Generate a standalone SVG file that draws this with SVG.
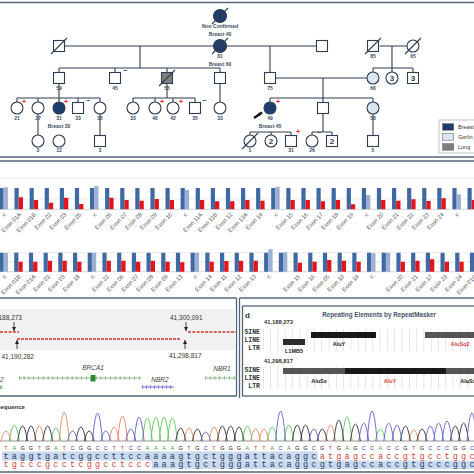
<svg xmlns="http://www.w3.org/2000/svg" width="474" height="474" viewBox="0 0 474 474">
<defs>
<style>
.fr{stroke:#55657a;stroke-width:1.3;fill:none}
.ln{stroke:#2f3d52;stroke-width:1.1;fill:none}
.nd{fill:#fff;stroke:#2f3d52;stroke-width:1.1}
.aff{fill:#1f3d6b}
.gor{fill:#dbe5f1}
.lng{fill:#7f7f7f}
.sl{stroke:#2f3d52;stroke-width:1.1}
.t{font-family:"Liberation Sans",Arial,sans-serif;font-size:5px;font-weight:bold;fill:#3b4a5e;text-anchor:middle}
.in{font-family:"Liberation Sans",Arial,sans-serif;font-size:8px;font-weight:bold;fill:#2f3d52;text-anchor:middle}
.pl{font-family:"Liberation Sans",Arial,sans-serif;font-size:7px;font-weight:bold;fill:#e02828;text-anchor:middle}
.mn{font-family:"Liberation Sans",Arial,sans-serif;font-size:7px;font-weight:bold;fill:#2f3d52;text-anchor:middle}
.lg{font-family:"Liberation Sans",Arial,sans-serif;font-size:5.5px;fill:#333}
.bb{fill:#3f69a3}
.rb{fill:#e3141c}
.cb{fill:#9cb0d3}
.xl{font-family:"Liberation Sans",Arial,sans-serif;font-size:5.8px;fill:#595959;text-anchor:end}
.co{font-family:"Liberation Sans",Arial,sans-serif;font-size:6.5px;fill:#333}
.gn{font-family:"Liberation Sans",Arial,sans-serif;font-size:6.5px;font-style:italic;fill:#444}
.dt{font-family:"Liberation Sans",Arial,sans-serif;font-size:5.8px;font-weight:bold;fill:#333}
.tr{font-family:"Liberation Mono",monospace;font-size:6.5px;font-weight:bold;fill:#333;text-anchor:end}
.rl{font-family:"Liberation Sans",Arial,sans-serif;font-size:5.5px;font-weight:bold;text-anchor:middle}
.up{font-family:"Liberation Sans",Arial,sans-serif;font-size:5.5px;text-anchor:middle}
.lo{font-family:"Liberation Mono",monospace;font-size:8.5px;letter-spacing:3.22px}
.pk{fill:none;stroke-width:0.9}
</style>
<marker id="ah" markerUnits="userSpaceOnUse" markerWidth="4" markerHeight="4" refX="4" refY="2" orient="auto"><path d="M0,0L4,2L0,4z" fill="#222"/></marker>
</defs>
<rect width="474" height="474" fill="#fff"/>

<!-- frames -->
<g id="frames">
<line class="fr" x1="0" y1="2.5" x2="474" y2="2.5"/>
<line class="fr" x1="0" y1="157" x2="474" y2="157"/>
<line class="fr" x1="0" y1="161" x2="474" y2="161"/>
<line class="fr" x1="0" y1="298" x2="236.5" y2="298"/>
<line class="fr" x1="236.5" y1="298" x2="236.5" y2="396"/>
<line class="fr" x1="0" y1="396" x2="236.5" y2="396"/>
<line class="fr" x1="239.5" y1="298" x2="474" y2="298"/>
<line class="fr" x1="239.5" y1="298" x2="239.5" y2="398"/>
<rect class="fr" x="242.5" y="306" width="240" height="90"/>
<line class="fr" x1="0" y1="472" x2="474" y2="472"/>
</g>

<!-- connectors -->
<g id="connectors" class="ln">
<path d="M64.5 46H213.5M226.5 46H316.5M379.5 46H407"/>
<path d="M140 46V68M59 68H220M59 68V72.5M115 68V72.5M167 68V72.5M220 68V72.5"/>
<path d="M270 46V72.5"/>
<path d="M392 46V68M373 68H413M373 68V72M392 68V72M413 68V72.5"/>
<path d="M275.5 78H367"/>
<path d="M323 78V98M270 98H373M270 98V102M323 98V102.5M373 98V102"/>
<path d="M59 83.5V98M17 98H100M17 98V102M38 98V102M59 98V102M78 98V102.5M100 98V102"/>
<path d="M167 83.5V98M133 98H195M133 98V102M155 98V102M173 98V102M195 98V102.5"/>
<path d="M220 83.5V102"/>
<path d="M38 114V135M100 114V135.5"/>
<path d="M250 132H291M250 132V135M271 132V135M291 132V135.5"/>
<path d="M323 113.5V132M312 132H332M312 132V135M332 132V135.5"/>
<path d="M373 114V135.5"/>
</g>

<!-- pedigree nodes -->
<g id="I1"><circle class="nd aff" cx="220" cy="16" r="6.5"/><line class="sl" x1="212" y1="24" x2="228" y2="8"/><text class="t" x="220" y="28">Non Confirmed</text><text class="t" x="220" y="36">Breast 40</text></g>
<g id="II1"><rect class="nd" x="53.5" y="40.5" width="11" height="11"/><line class="sl" x1="51" y1="54" x2="67" y2="38"/></g>
<g id="II2"><circle class="nd aff" cx="220" cy="46" r="6.5"/><line class="sl" x1="212" y1="54" x2="228" y2="38"/><text class="t" x="220" y="58">81</text><text class="t" x="220" y="66">Breast 60</text></g>
<g id="II3"><rect class="nd" x="316.5" y="40.5" width="11" height="11"/></g>
<g id="II4"><rect class="nd" x="367.5" y="40.5" width="11" height="11"/><line class="sl" x1="365" y1="54" x2="381" y2="38"/><text class="t" x="373" y="58">85</text></g>
<g id="II5"><circle class="nd" cx="413" cy="46" r="6"/><line class="sl" x1="405" y1="54" x2="421" y2="38"/><text class="t" x="413" y="58">65</text></g>

<g id="III1"><rect class="nd" x="53.5" y="72.5" width="11" height="11"/><text class="t" x="59" y="90">59</text></g>
<g id="III2"><rect class="nd" x="109.5" y="72.5" width="11" height="11"/><text class="t" x="115" y="90">45</text><text class="mn" x="125" y="73">−</text></g>
<g id="III3"><rect class="nd lng" x="161.5" y="72.5" width="11" height="11"/><line class="sl" x1="159" y1="86" x2="175" y2="70"/><text class="t" x="167" y="90">55</text></g>
<g id="III4"><rect class="nd" x="214.5" y="72.5" width="11" height="11"/></g>
<g id="III5"><rect class="nd" x="264.5" y="72.5" width="11" height="11"/><text class="t" x="270" y="90">75</text></g>
<g id="III6"><circle class="nd gor" cx="373" cy="78" r="6"/><text class="t" x="373" y="90">66</text></g>
<g id="III7"><circle class="nd" cx="392" cy="78" r="6"/><text class="in" x="392" y="81">3</text></g>
<g id="III8"><rect class="nd" x="407.5" y="72.5" width="11" height="11"/><text class="in" x="413" y="81">3</text></g>

<g id="IV1"><circle class="nd" cx="17" cy="108" r="6"/><text class="pl" x="24" y="104">+</text><text class="t" x="17" y="120">21</text></g>
<g id="IV2"><circle class="nd" cx="38" cy="108" r="6"/><text class="t" x="38" y="120">27</text></g>
<g id="IV3"><circle class="nd aff" cx="59" cy="108" r="6"/><text class="pl" x="66" y="104">+</text><text class="t" x="59" y="120">31</text><text class="t" x="59" y="128">Breast 30</text></g>
<g id="IV4"><rect class="nd" x="72.5" y="102.5" width="11" height="11"/><text class="mn" x="88" y="103">−</text><text class="t" x="78" y="120">33</text></g>
<g id="IV5"><circle class="nd" cx="100" cy="108" r="6"/><text class="t" x="100" y="120">35</text></g>
<g id="IV6"><circle class="nd" cx="133" cy="108" r="6"/><text class="t" x="133" y="120">33</text></g>
<g id="IV7"><circle class="nd" cx="155" cy="108" r="6"/><text class="pl" x="162" y="104">+</text><text class="t" x="155" y="120">40</text></g>
<g id="IV8"><circle class="nd" cx="173" cy="108" r="6"/><text class="pl" x="181" y="104">+</text><text class="t" x="173" y="120">42</text></g>
<g id="IV9"><rect class="nd" x="189.5" y="102.5" width="11" height="11"/><text class="mn" x="204" y="103">−</text><text class="t" x="195" y="120">35</text></g>
<g id="IV10"><circle class="nd" cx="220" cy="108" r="6"/><text class="t" x="220" y="120">33</text></g>
<g id="IV11"><circle class="nd aff" cx="270" cy="108" r="6"/><text class="pl" x="278" y="104">+</text><line x1="254" y1="118" x2="262" y2="112.5" stroke="#111" stroke-width="2.4" marker-end="url(#ah)"/><text class="t" x="270" y="120">49</text><text class="t" x="270" y="128">Breast 45</text></g>
<g id="IV12"><rect class="nd" x="317.5" y="102.5" width="11" height="11"/></g>
<g id="IV13"><circle class="nd gor" cx="373" cy="108" r="6"/><text class="t" x="373" y="120">58</text></g>

<g id="V1"><circle class="nd" cx="38" cy="141" r="6"/><text class="t" x="38" y="152">3</text></g>
<g id="V2"><circle class="nd" cx="59" cy="141" r="6"/><text class="t" x="59" y="152">12</text></g>
<g id="V3"><rect class="nd" x="94.5" y="135.5" width="11" height="11"/><text class="t" x="100" y="152">3</text></g>
<g id="V4"><circle class="nd" cx="250" cy="141" r="6"/><line class="sl" x1="242" y1="149" x2="258" y2="133"/><text class="t" x="250" y="152">1</text></g>
<g id="V5"><circle class="nd" cx="271" cy="141" r="6"/><text class="in" x="271" y="144">2</text></g>
<g id="V6"><rect class="nd" x="285.5" y="135.5" width="11" height="11"/><text class="pl" x="298" y="134">+</text><text class="t" x="291" y="152">31</text></g>
<g id="V7"><circle class="nd" cx="312" cy="141" r="6"/><text class="mn" x="319" y="135">−</text><text class="t" x="312" y="152">26</text></g>
<g id="V8"><rect class="nd" x="326.5" y="135.5" width="11" height="11"/><text class="in" x="332" y="144">2</text></g>
<g id="V9"><rect class="nd" x="367.5" y="135.5" width="11" height="11"/><text class="t" x="373" y="152">5</text></g>

<g id="legend">
<rect x="439" y="120" width="40" height="33" fill="#fff" stroke="#aaa" stroke-width="0.7"/>
<rect x="442.7" y="123.7" width="11" height="6.5" fill="#1f3d6b" stroke="#555" stroke-width="0.5"/>
<rect x="442.7" y="133.7" width="11" height="6.5" fill="#dbe5f1" stroke="#555" stroke-width="0.5"/>
<rect x="442.7" y="143.7" width="11" height="6.5" fill="#7f7f7f" stroke="#555" stroke-width="0.5"/>
<text class="lg" x="458" y="129">Breast</text>
<text class="lg" x="458" y="139">Gorlin</text>
<text class="lg" x="458" y="149">Lung</text>
</g>

<!-- panel b -->
<g id="chart-top">
<path d="M0 178H474M0 199H474" stroke="#dcdcdc" stroke-width="0.6"/>
<path d="M0 209.3H474" stroke="#bbb" stroke-width="0.6"/>
<path class="bb" d="M-0.6 188h4.2v21.3h-4.2zM14.5 188h4.2v21.3h-4.2zM29.6 188h4.2v21.3h-4.2zM44.7 188h4.2v21.3h-4.2zM59.8 188h4.2v21.3h-4.2zM74.9 188h4.2v21.3h-4.2zM90 188h4.2v21.3h-4.2zM105.1 188h4.2v21.3h-4.2zM120.2 188h4.2v21.3h-4.2zM135.3 188h4.2v21.3h-4.2zM150.4 188h4.2v21.3h-4.2zM165.5 188h4.2v21.3h-4.2zM180.6 188h4.2v21.3h-4.2zM195.7 188h4.2v21.3h-4.2zM210.8 188h4.2v21.3h-4.2zM225.9 188h4.2v21.3h-4.2zM241 188h4.2v21.3h-4.2zM256.1 188h4.2v21.3h-4.2zM271.2 188h4.2v21.3h-4.2zM286.3 188h4.2v21.3h-4.2zM301.4 188h4.2v21.3h-4.2zM316.5 188h4.2v21.3h-4.2zM331.6 188h4.2v21.3h-4.2zM346.7 188h4.2v21.3h-4.2zM361.8 188h4.2v21.3h-4.2zM376.9 188h4.2v21.3h-4.2zM392 188h4.2v21.3h-4.2zM407.1 188h4.2v21.3h-4.2zM422.2 188h4.2v21.3h-4.2zM437.3 188h4.2v21.3h-4.2zM452.4 188h4.2v21.3h-4.2zM467.5 188h4.2v21.3h-4.2z"/>
<path class="rb" d="M18.7 197.3h4.3V209.3h-4.3zM33.8 200h4.3V209.3h-4.3zM48.9 202.7h4.3V209.3h-4.3zM64 197.7h4.3V209.3h-4.3zM79.1 204h4.3V209.3h-4.3zM109.3 197.7h4.3V209.3h-4.3zM124.4 200h4.3V209.3h-4.3zM139.5 200.7h4.3V209.3h-4.3zM154.6 199h4.3V209.3h-4.3zM169.7 200h4.3V209.3h-4.3zM199.9 200h4.3V209.3h-4.3zM215 201.3h4.3V209.3h-4.3zM230.1 201.3h4.3V209.3h-4.3zM245.2 200h4.3V209.3h-4.3zM260.3 200.7h4.3V209.3h-4.3zM290.5 200h4.3V209.3h-4.3zM305.6 200h4.3V209.3h-4.3zM320.7 201.3h4.3V209.3h-4.3zM335.8 200h4.3V209.3h-4.3zM350.9 204.3h4.3V209.3h-4.3zM381.1 200h4.3V209.3h-4.3zM396.2 200.7h4.3V209.3h-4.3zM411.3 199.3h4.3V209.3h-4.3zM426.4 201h4.3V209.3h-4.3zM441.5 198.3h4.3V209.3h-4.3zM471.7 200h4.3V209.3h-4.3z"/>
<path class="cb" d="M3.6 187.3h4.3V209.3h-4.3zM94.2 186h4.3V209.3h-4.3zM184.8 190h4.3V209.3h-4.3zM275.4 186.7h4.3V209.3h-4.3zM366 195h4.3V209.3h-4.3zM456.6 194.3h4.3V209.3h-4.3z"/>
<g class="xl">
<text transform="translate(6.4,215) rotate(-45)">c</text>
<text transform="translate(21.5,215) rotate(-45)">Exon 01A</text>
<text transform="translate(36.6,215) rotate(-45)">Exon 01B</text>
<text transform="translate(51.7,215) rotate(-45)">Exon 02</text>
<text transform="translate(66.8,215) rotate(-45)">Exon 03</text>
<text transform="translate(81.9,215) rotate(-45)">Exon 05</text>
<text transform="translate(97,215) rotate(-45)">c</text>
<text transform="translate(112.1,215) rotate(-45)">Exon 06</text>
<text transform="translate(127.2,215) rotate(-45)">Exon 07</text>
<text transform="translate(142.3,215) rotate(-45)">Exon 08</text>
<text transform="translate(157.4,215) rotate(-45)">Exon 09</text>
<text transform="translate(172.5,215) rotate(-45)">Exon 10</text>
<text transform="translate(187.6,215) rotate(-45)">c</text>
<text transform="translate(202.7,215) rotate(-45)">Exon 11A</text>
<text transform="translate(217.8,215) rotate(-45)">Exon 11B</text>
<text transform="translate(232.9,215) rotate(-45)">Exon 12</text>
<text transform="translate(248,215) rotate(-45)">Exon 13A</text>
<text transform="translate(263.1,215) rotate(-45)">Exon 14</text>
<text transform="translate(278.2,215) rotate(-45)">c</text>
<text transform="translate(293.3,215) rotate(-45)">Exon 15</text>
<text transform="translate(308.4,215) rotate(-45)">Exon 16</text>
<text transform="translate(323.5,215) rotate(-45)">Exon 17</text>
<text transform="translate(338.6,215) rotate(-45)">Exon 18</text>
<text transform="translate(353.7,215) rotate(-45)">Exon 19</text>
<text transform="translate(368.8,215) rotate(-45)">c</text>
<text transform="translate(383.9,215) rotate(-45)">Exon 20</text>
<text transform="translate(399,215) rotate(-45)">Exon 21</text>
<text transform="translate(414.1,215) rotate(-45)">Exon 22</text>
<text transform="translate(429.2,215) rotate(-45)">Exon 23</text>
<text transform="translate(444.3,215) rotate(-45)">Exon 24</text>
<text transform="translate(459.4,215) rotate(-45)">c</text>
</g>
</g>

<g id="chart-bottom">
<path d="M0 252.7H474M0 262H474" stroke="#dcdcdc" stroke-width="0.6"/>
<path d="M0 271.7H474" stroke="#bbb" stroke-width="0.6"/>
<path class="bb" d="M-0.5 252.7h4.2v19h-4.2zM14.2 252.7h4.2v19h-4.2zM28.9 252.7h4.2v19h-4.2zM43.6 252.7h4.2v19h-4.2zM58.3 252.7h4.2v19h-4.2zM73 252.7h4.2v19h-4.2zM87.7 252.7h4.2v19h-4.2zM102.4 252.7h4.2v19h-4.2zM117.1 252.7h4.2v19h-4.2zM131.8 252.7h4.2v19h-4.2zM146.5 252.7h4.2v19h-4.2zM161.2 252.7h4.2v19h-4.2zM175.9 252.7h4.2v19h-4.2zM190.6 252.7h4.2v19h-4.2zM205.3 252.7h4.2v19h-4.2zM220 252.7h4.2v19h-4.2zM234.7 252.7h4.2v19h-4.2zM249.4 252.7h4.2v19h-4.2zM264.1 252.7h4.2v19h-4.2zM278.8 252.7h4.2v19h-4.2zM293.5 252.7h4.2v19h-4.2zM308.2 252.7h4.2v19h-4.2zM322.9 252.7h4.2v19h-4.2zM337.6 252.7h4.2v19h-4.2zM352.3 252.7h4.2v19h-4.2zM367 252.7h4.2v19h-4.2zM381.7 252.7h4.2v19h-4.2zM396.4 252.7h4.2v19h-4.2zM411.1 252.7h4.2v19h-4.2zM425.8 252.7h4.2v19h-4.2zM440.5 252.7h4.2v19h-4.2zM455.2 252.7h4.2v19h-4.2zM469.9 252.7h4.2v19h-4.2z"/>
<path class="rb" d="M18.4 261.7h4.3V271.7h-4.3zM33.1 261.7h4.3V271.7h-4.3zM47.8 260.7h4.3V271.7h-4.3zM62.5 260.7h4.3V271.7h-4.3zM77.2 261.7h4.3V271.7h-4.3zM106.6 260.7h4.3V271.7h-4.3zM121.3 260.7h4.3V271.7h-4.3zM136 261.7h4.3V271.7h-4.3zM150.7 260.7h4.3V271.7h-4.3zM165.4 261.7h4.3V271.7h-4.3zM180.1 262.3h4.3V271.7h-4.3zM209.5 261.7h4.3V271.7h-4.3zM224.2 261h4.3V271.7h-4.3zM238.9 260.7h4.3V271.7h-4.3zM253.6 260.7h4.3V271.7h-4.3zM297.7 262.7h4.3V271.7h-4.3zM312.4 261.7h4.3V271.7h-4.3zM327.1 260h4.3V271.7h-4.3zM341.8 260.7h4.3V271.7h-4.3zM356.5 261.7h4.3V271.7h-4.3zM400.6 261.7h4.3V271.7h-4.3zM415.3 260.7h4.3V271.7h-4.3zM430 259.3h4.3V271.7h-4.3zM444.7 261.7h4.3V271.7h-4.3zM459.4 261.7h4.3V271.7h-4.3z"/>
<path class="cb" d="M3.7 253h4.3V271.7h-4.3zM91.9 252.7h4.3V271.7h-4.3zM194.8 252.7h4.3V271.7h-4.3zM268.3 249.3h4.3V271.7h-4.3zM283 252.3h4.3V271.7h-4.3zM371.2 253.3h4.3V271.7h-4.3zM385.9 252.7h4.3V271.7h-4.3z"/>
<g class="xl">
<text transform="translate(6.5,277) rotate(-45)">c</text>
<text transform="translate(21.2,277) rotate(-45)">Exon 01B</text>
<text transform="translate(35.9,277) rotate(-45)">Exon 01A</text>
<text transform="translate(50.6,277) rotate(-45)">Exon 02</text>
<text transform="translate(65.3,277) rotate(-45)">Exon 03</text>
<text transform="translate(80,277) rotate(-45)">Exon 18</text>
<text transform="translate(94.7,277) rotate(-45)">c</text>
<text transform="translate(109.4,277) rotate(-45)">Exon 22</text>
<text transform="translate(124.1,277) rotate(-45)">Exon 06</text>
<text transform="translate(138.8,277) rotate(-45)">Exon 07</text>
<text transform="translate(153.5,277) rotate(-45)">Exon 08</text>
<text transform="translate(168.2,277) rotate(-45)">Exon 09</text>
<text transform="translate(182.9,277) rotate(-45)">Exon 13</text>
<text transform="translate(197.6,277) rotate(-45)">c</text>
<text transform="translate(212.3,277) rotate(-45)">Exon 14</text>
<text transform="translate(227,277) rotate(-45)">Exon 11</text>
<text transform="translate(241.7,277) rotate(-45)">Exon 12</text>
<text transform="translate(256.4,277) rotate(-45)">Exon 13</text>
<text transform="translate(271.1,277) rotate(-45)">c</text>
<text transform="translate(300.5,277) rotate(-45)">Exon 15</text>
<text transform="translate(315.2,277) rotate(-45)">Exon 16</text>
<text transform="translate(329.9,277) rotate(-45)">Exon 05</text>
<text transform="translate(344.6,277) rotate(-45)">Exon 10</text>
<text transform="translate(359.3,277) rotate(-45)">Exon 19</text>
<text transform="translate(374,277) rotate(-45)">c</text>
<text transform="translate(403.4,277) rotate(-45)">Exon 20</text>
<text transform="translate(418.1,277) rotate(-45)">Exon 21</text>
<text transform="translate(432.8,277) rotate(-45)">Exon 17</text>
<text transform="translate(447.5,277) rotate(-45)">Exon 23</text>
<text transform="translate(462.2,277) rotate(-45)">Exon 24</text>
<text transform="translate(476.9,277) rotate(-45)">Exon 01C</text>
</g>
</g>

<!-- panel c -->
<g id="panel-c">
<rect x="0" y="309" width="235.8" height="41" fill="#f1f1f1"/>
<text class="co" x="22" y="320" text-anchor="end">41,188,273</text>
<text class="co" x="170" y="320">41,300,091</text>
<line x1="14" y1="322" x2="14" y2="331" stroke="#222" stroke-width="0.8" marker-end="url(#ah)"/>
<line x1="186" y1="322" x2="186" y2="331" stroke="#222" stroke-width="0.8" marker-end="url(#ah)"/>
<path d="M0 332H19M188 332H236" stroke="#c9372c" stroke-width="1.3" stroke-dasharray="3 1.3"/>
<path d="M17 339H180" stroke="#c9372c" stroke-width="1.3" stroke-dasharray="3 1"/>
<line x1="17" y1="349" x2="17" y2="340" stroke="#222" stroke-width="0.8" marker-end="url(#ah)"/>
<line x1="185" y1="349" x2="185" y2="340" stroke="#222" stroke-width="0.8" marker-end="url(#ah)"/>
<text class="co" x="34" y="359" text-anchor="end">41,190,282</text>
<text class="co" x="169" y="358">41,298,817</text>
<text class="gn" x="93" y="370" text-anchor="middle">BRCA1</text>
<text class="gn" x="222" y="371" text-anchor="middle">NBR1</text>
<text class="gn" x="160" y="382" text-anchor="middle">NBR2</text>
<text class="gn" x="3.5" y="382" text-anchor="end">NBR2</text>
<path d="M19 378H141M205 378H237" stroke="#6aaa6a" stroke-width="0.8"/>
<path d="M19 378H141M205 378H237" stroke="#6aaa6a" stroke-width="4" stroke-dasharray="0.6 4.2"/>
<rect x="90.5" y="375" width="5" height="6.5" fill="#2f8a2f"/>
<path d="M142 387H174" stroke="#5a4fcf" stroke-width="0.9"/>
<path d="M142 387H174" stroke="#5a4fcf" stroke-width="4" stroke-dasharray="0.6 3.4"/>
<rect x="0" y="385.5" width="2.2" height="3.5" fill="#8bc48b"/>
</g>

<!-- panel d -->
<g id="panel-d">
<text x="245" y="318" font-family="Liberation Sans, Arial, sans-serif" font-size="8" font-weight="bold" fill="#333">d</text>
<text x="379" y="317" font-family="Liberation Sans, Arial, sans-serif" font-size="6.3" font-weight="bold" fill="#44546a" text-anchor="middle">Repeating Elements by RepeatMasker</text>
<text class="dt" x="264" y="324">41,188,273</text>
<line x1="263" y1="340" x2="474" y2="340" stroke="#d8d8d8" stroke-width="22" stroke-dasharray="0.6 6.7"/>
<text class="tr" x="260" y="334">SINE</text>
<text class="tr" x="260" y="342">LINE</text>
<text class="tr" x="260" y="350">LTR</text>
<rect x="311" y="332" width="65" height="6" fill="#1a1a1a"/>
<rect x="283" y="339" width="22" height="6" fill="#2c2c2c"/>
<rect x="425" y="332" width="50" height="6" fill="#555"/>
<text class="rl" x="339" y="346" fill="#222">AluY</text>
<text class="rl" x="294" y="353" fill="#222">L1MB5</text>
<text class="rl" x="460" y="346" fill="#d9443a">AluSq2</text>
<text class="dt" x="264" y="363">41,298,817</text>
<line x1="263" y1="378" x2="474" y2="378" stroke="#d8d8d8" stroke-width="22" stroke-dasharray="0.6 6.7"/>
<text class="tr" x="260" y="372">SINE</text>
<text class="tr" x="260" y="380">LINE</text>
<text class="tr" x="260" y="388">LTR</text>
<rect x="283" y="368" width="62" height="6" fill="#555"/>
<rect x="345" y="368" width="101" height="6" fill="#1a1a1a"/>
<rect x="446" y="368" width="30" height="6" fill="#555"/>
<text class="rl" x="319" y="383" fill="#222">AluSx</text>
<text class="rl" x="390" y="383" fill="#d9443a">AluY</text>
<text class="rl" x="468" y="383" fill="#222">AluSx</text>
</g>

<!-- panel e -->
<g id="panel-e">
<text x="-3.5" y="409" font-family="Liberation Sans, Arial, sans-serif" font-size="6" font-weight="bold" fill="#333">Sequence</text>
<line x1="0" y1="441" x2="474" y2="441" stroke="#555" stroke-width="0.6"/>
<path class="pk" stroke="#e8865a" d="M1 441Q6 421 11 441M34.3 441Q39.3 411 44.3 441M59.2 441Q64.2 383 69.2 441M109.2 441Q114.2 413 119.2 441M117.5 441Q122.5 391 127.5 441M184 441Q189 415 194 441M209 441Q214 413 219 441M250.6 441Q255.6 417 260.6 441M258.9 441Q263.9 417 268.9 441M325.5 441Q330.5 409 335.5 441M408.7 441Q413.7 419 418.7 441"/>
<path class="pk" stroke="#5cc65c" d="M9.3 441Q14.3 409 19.3 441M50.9 441Q55.9 415 60.9 441M142.4 441Q147.4 395 152.4 441M150.8 441Q155.8 393 160.8 441M159.1 441Q164.1 393 169.1 441M167.4 441Q172.4 395 177.4 441M242.3 441Q247.3 411 252.3 441M267.2 441Q272.2 413 277.2 441M283.9 441Q288.9 409 293.9 441M342.1 441Q347.1 393 352.1 441M375.4 441Q380.4 417 385.4 441"/>
<path class="pk" stroke="#333" d="M17.6 441Q22.6 411 27.6 441M26 441Q31 411 36 441M42.6 441Q47.6 411 52.6 441M75.9 441Q80.9 413 85.9 441M84.2 441Q89.2 421 94.2 441M175.7 441Q180.7 415 185.7 441M192.4 441Q197.4 417 202.4 441M217.3 441Q222.3 411 227.3 441M225.6 441Q230.6 411 235.6 441M234 441Q239 413 244 441M292.2 441Q297.2 409 302.2 441M300.5 441Q305.5 409 310.5 441M317.2 441Q322.2 417 327.2 441M333.8 441Q338.8 399 343.8 441M350.4 441Q355.4 407 360.4 441M400.4 441Q405.4 411 410.4 441M417 441Q422 417 427 441M450.3 441Q455.3 411 460.3 441M458.6 441Q463.6 405 468.6 441"/>
<path class="pk" stroke="#6060d0" d="M67.6 441Q72.6 421 77.6 441M92.5 441Q97.5 385 102.5 441M100.8 441Q105.8 421 110.8 441M125.8 441Q130.8 417 135.8 441M134.1 441Q139.1 393 144.1 441M200.7 441Q205.7 423 210.7 441M275.6 441Q280.6 381 285.6 441M308.8 441Q313.8 417 318.8 441M358.8 441Q363.8 405 368.8 441M367.1 441Q372.1 381 377.1 441M383.7 441Q388.7 405 393.7 441M392 441Q397 409 402 441M425.3 441Q430.3 411 435.3 441M433.6 441Q438.6 405 443.6 441M442 441Q447 401 452 441M466.9 441Q471.9 385 476.9 441"/>
<text class="up" fill="#d94040" x="6 39.3 64.2 114.2 122.5 189 214 255.6 263.9 330.5 413.7" y="449.5">TTTTTTTTTTT</text>
<text class="up" fill="#3aa63a" x="14.3 55.9 147.4 155.8 164.1 172.4 247.3 272.2 288.9 347.1 380.4" y="449.5">AAAAAAAAAAA</text>
<text class="up" fill="#222" x="22.6 31 47.6 80.9 89.2 180.7 197.4 222.3 230.6 239 297.2 305.5 322.2 338.8 355.4 405.4 422 455.3 463.6" y="449.5">GGGGGGGGGGGGGGGGGGG</text>
<text class="up" fill="#4040c0" x="72.6 97.5 105.8 130.8 139.1 205.7 280.6 313.8 363.8 372.1 388.7 397 430.3 438.6 447 471.9" y="449.5">CCCCCCCCCCCCCCCC</text>
<rect x="2" y="451.5" width="316" height="9" fill="#c9d9ee"/>
<rect x="151.6" y="460.5" width="323" height="8.5" fill="#c9d9ee"/>
<text class="lo" x="3.45" y="459" fill="#1f3a60">taggtgatcggccttccaaaagtgctgggattacaggc</text>
<text class="lo" x="319.65" y="459" fill="#d9443a">atgagccaccgtgcctggc</text>
<text class="lo" x="3.45" y="467" fill="#d9443a">tgcccgcctcggcctccc</text>
<text class="lo" x="153.25" y="467" fill="#1f3a60">aaagtgctgggattacaggcgtgagccaccgtgcccggc</text>
</g>
</svg>
